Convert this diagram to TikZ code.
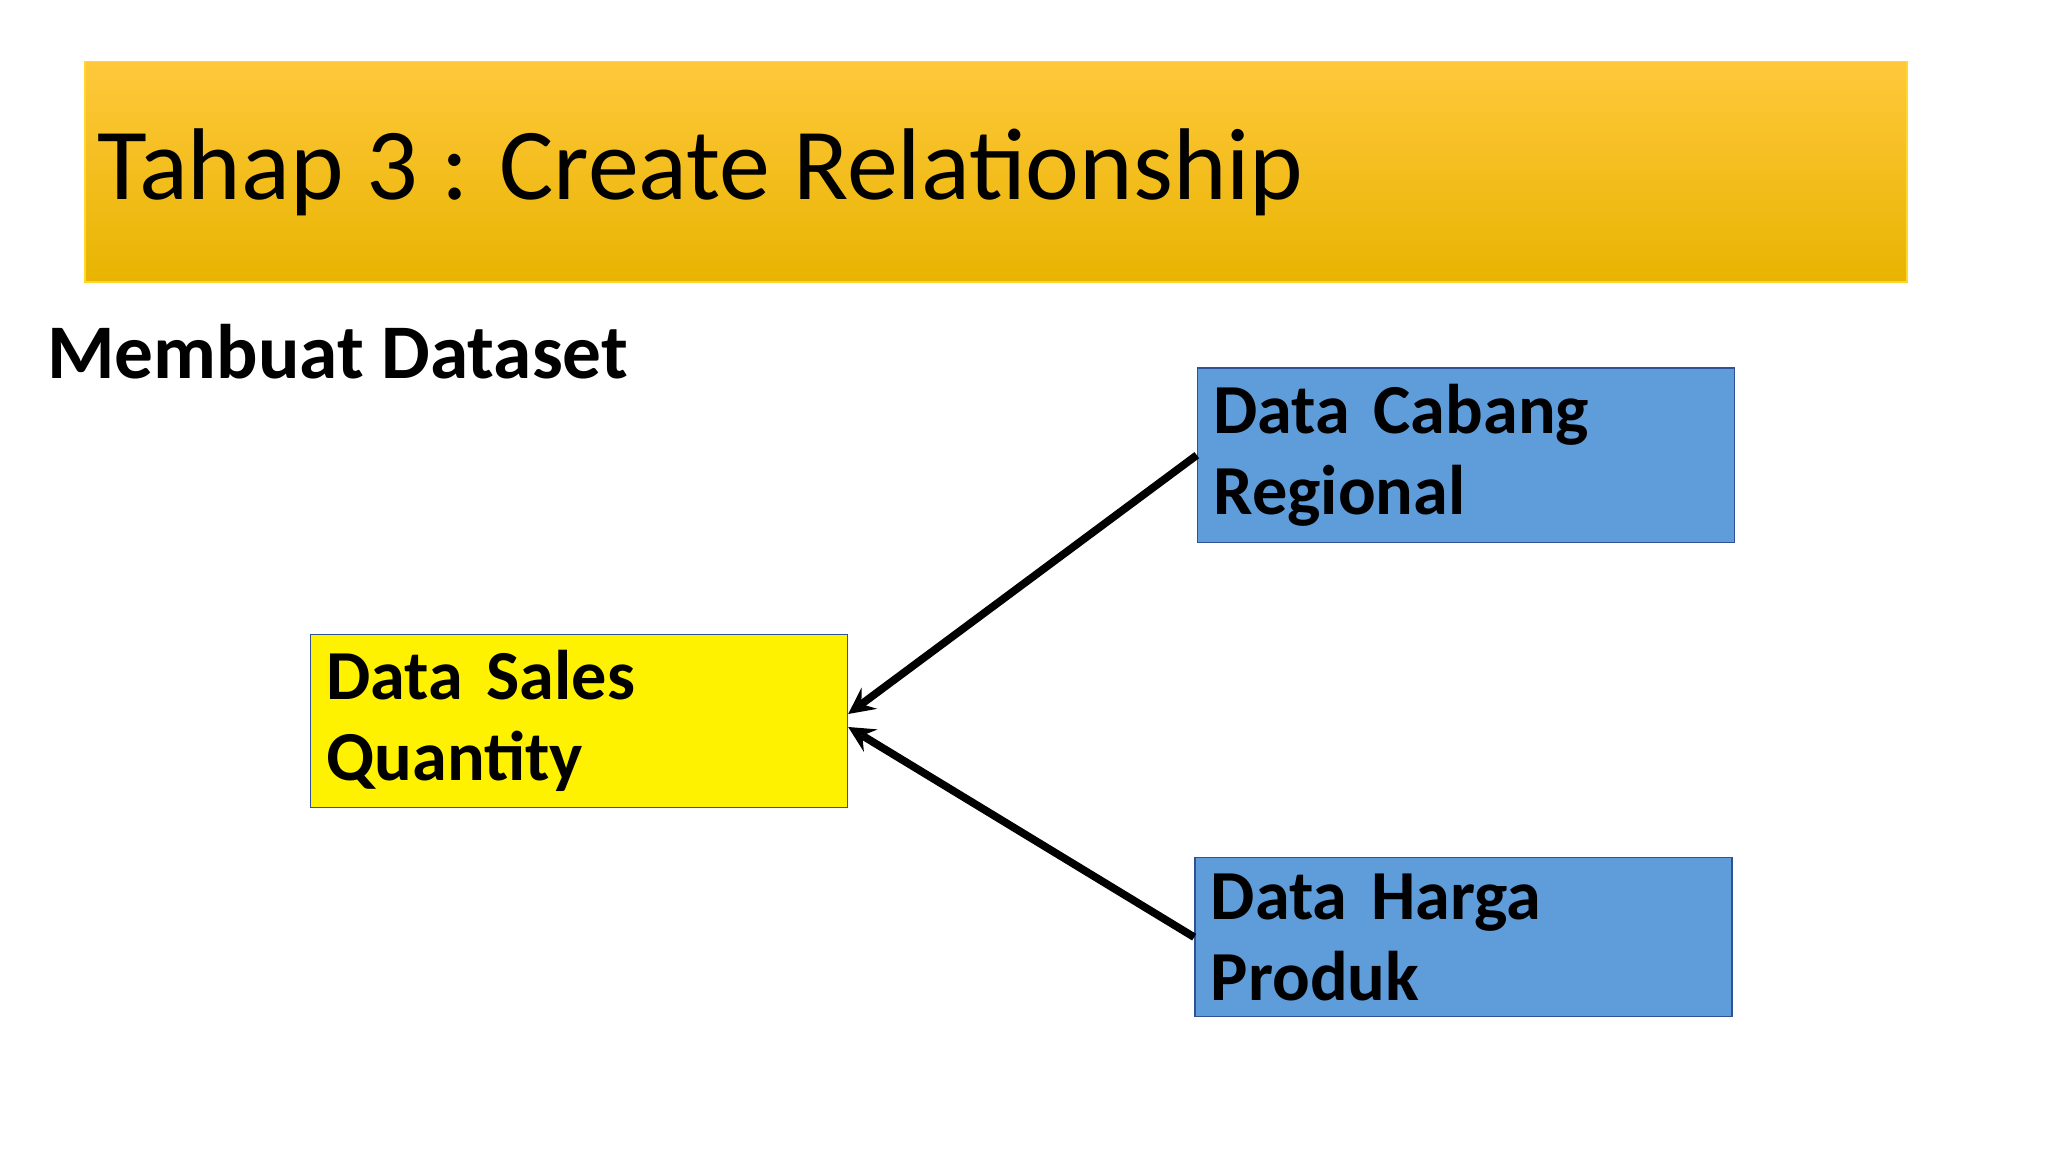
\documentclass[tikz,border=0pt]{standalone}
\usepackage{fontspec}
\setmainfont{Carlito}
\usepackage{xcolor}
\usetikzlibrary{positioning}
\definecolor{BannerTop}{RGB}{255,200,60}
\definecolor{BannerBot}{RGB}{232,180,0}
\definecolor{BoxBlue}{RGB}{95,157,218}
\definecolor{BoxEdge}{RGB}{50,80,150}
\tikzset{
	databox/.style={draw=BoxEdge, thin, minimum width=5.37cm, text width=5.05cm, align=left, inner sep=0.16cm, font=\fontsize{20}{23}\selectfont\bfseries},
	link/.style={-stealth, line width=2.2pt, black},
}
\begin{document}
\begin{tikzpicture}
\useasboundingbox (0,0) rectangle (20.48,11.52);

\shade[top color=BannerTop, bottom color=BannerBot, draw=BannerTop!70!yellow] (0.849,8.698) rectangle (19.07,10.905);
\node[anchor=west, font=\fontsize{29}{32}\selectfont] (title) at (0.85,9.80) {Tahap 3 : Create Relationship};

\node[anchor=west, font=\fontsize{22}{25}\selectfont\bfseries] (sub) at (0.35,8.0) {Membuat Dataset};

\node[databox, fill=yellow, minimum height=1.72cm] (sales) at (5.79,4.31) {Data Sales\\Quantity};
\node[databox, fill=BoxBlue, minimum height=1.53cm] (cabang) at (14.66,6.968) {Data Cabang\\Regional};
\node[databox, fill=BoxBlue, minimum height=1.53cm] (harga) at (14.634,2.148) {Data Harga\\Produk};

\draw[link] (cabang.west) -- ([yshift=0.07cm]sales.east);
\draw[link] (harga.west) -- ([yshift=-0.06cm]sales.east);
\end{tikzpicture}
\end{document}
